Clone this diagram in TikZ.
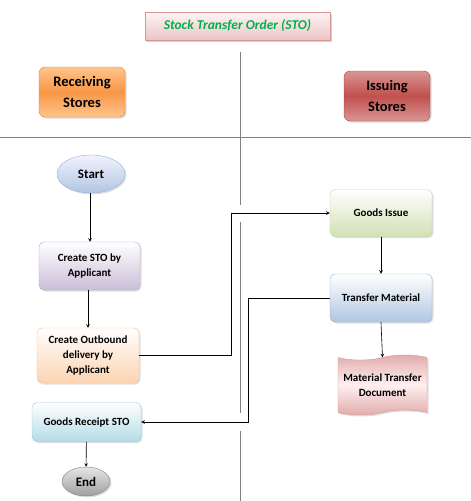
\documentclass[tikz,border=0pt]{standalone}
\usepackage{fontspec}
\setmainfont{Carlito}
\usetikzlibrary{shapes.geometric, shapes.symbols, arrows, positioning, shadows}

\definecolor{titlegreen}{RGB}{0,176,80}
\definecolor{pinkline}{RGB}{217,150,148}
\definecolor{orangeline}{RGB}{228,130,50}
\definecolor{redline}{RGB}{170,70,68}
\definecolor{blueline}{RGB}{149,179,215}
\definecolor{lilacline}{RGB}{178,161,199}
\definecolor{peachline}{RGB}{250,192,144}
\definecolor{cyanline}{RGB}{147,205,221}
\definecolor{greenline}{RGB}{195,214,155}
\definecolor{laneline}{RGB}{128,128,128}

\tikzstyle{process} = [rectangle, rounded corners=5pt, minimum width=102pt, minimum height=48pt, align=center, font=\bfseries\fontsize{11}{14.5}\selectfont, drop shadow={shadow xshift=1.5pt, shadow yshift=-1.5pt, opacity=0.25}]
\tikzstyle{arrow} = [semithick,->,>=stealth]
\tikzset{
	terminal/.style={ellipse, align=center, font=\bfseries\fontsize{13}{15}\selectfont, drop shadow={shadow xshift=1.5pt, shadow yshift=-1.5pt, opacity=0.25}},
	header/.style={rectangle, rounded corners=6pt, minimum width=86pt, minimum height=50pt, align=center, font=\bfseries\fontsize{14.5}{21}\selectfont, drop shadow={shadow xshift=1.5pt, shadow yshift=-1.5pt, opacity=0.3}},
	lane/.style={laneline, line width=0.8pt}
}

\begin{document}
\begin{tikzpicture}[x=1pt, y=-1pt]
		\useasboundingbox (0,0) rectangle (471,501);
		
		% Title and lanes
		\node (title) [rectangle, minimum width=185pt, minimum height=28pt, draw=pinkline, top color=red!4, bottom color=pinkline!55, font=\bfseries\itshape\fontsize{13.5}{15}\selectfont, text=titlegreen, drop shadow={shadow xshift=2pt, shadow yshift=-2pt, opacity=0.35}] at (237.5,26) {Stock Transfer Order (STO)};
		\node (recv) [header, draw=orangeline, top color=orange!45, bottom color=orange!45, middle color={rgb,255:red,247;green,150;blue,70}] at (82,92) {Receiving\\Stores};
		\node (issue) [header, draw=redline, top color=pinkline, bottom color=pinkline, middle color={rgb,255:red,192;green,80;blue,77}] at (387,96) {Issuing\\Stores};
		\draw [lane] (0,137) -- (471,137);
		\draw [lane] (240,52) -- (240,205);
		\draw [lane] (240,222) -- (240,413);
		\draw [lane] (240,431) -- (240,501);
		
		% Nodes
		\node (start) [terminal, minimum width=68pt, minimum height=38pt, draw=blueline, top color=blue!5, bottom color=blueline!75] at (91,174) {Start};
		\node (sto) [process, minimum width=101pt, draw=lilacline, top color=white, bottom color=lilacline!70] at (89.5,266) {Create STO by\\Applicant};
		\node (outb) [process, minimum height=55pt, draw=peachline, top color=white, bottom color=peachline!70] at (88,355.5) {Create Outbound\\delivery by\\Applicant};
		\node (receipt) [process, minimum width=109pt, minimum height=39pt, draw=cyanline, top color=white, bottom color=cyanline!70] at (86.5,422) {Goods Receipt STO};
		\node (end) [terminal, minimum width=48pt, minimum height=29pt, draw=laneline, top color=gray!20, bottom color=gray!75] at (86,481.5) {End};
		\node (gissue) [process, minimum height=47pt, draw=greenline, top color=white, bottom color=greenline!75] at (381,213) {Goods Issue};
		\node (transfer) [process, draw=blueline, top color=white, bottom color=blueline!75] at (381,298) {Transfer Material};
		\node (doc) [tape, minimum width=89pt, minimum height=60pt, inner xsep=1pt, draw=pinkline, top color=pinkline!80, bottom color=pinkline!80, middle color=red!6, align=center, font=\bfseries\fontsize{11}{15}\selectfont, drop shadow={shadow xshift=1.5pt, shadow yshift=-1.5pt, opacity=0.25}] at (382.5,385) {Material Transfer\\Document};
		\coordinate (bendA) at (231,0);
		\coordinate (bendB) at (248,0);
		
		% Arrows
		\draw [arrow] (start.south -| 90,0) -- (sto.north -| 90,0);
		\draw [arrow] (sto.south -| 88,0) -- (outb.north -| 88,0);
		\draw [arrow] (outb.east) -- (outb.east -| bendA) |- (gissue.west);
		\draw [arrow] (gissue) -- (transfer);
		\draw [arrow] (transfer.west) -- (transfer.west -| bendB) |- (receipt.east);
		\draw [arrow] (transfer.south) -- (doc.north);
		\draw [arrow] (receipt) -- (end);
		
	\end{tikzpicture}
\end{document}
